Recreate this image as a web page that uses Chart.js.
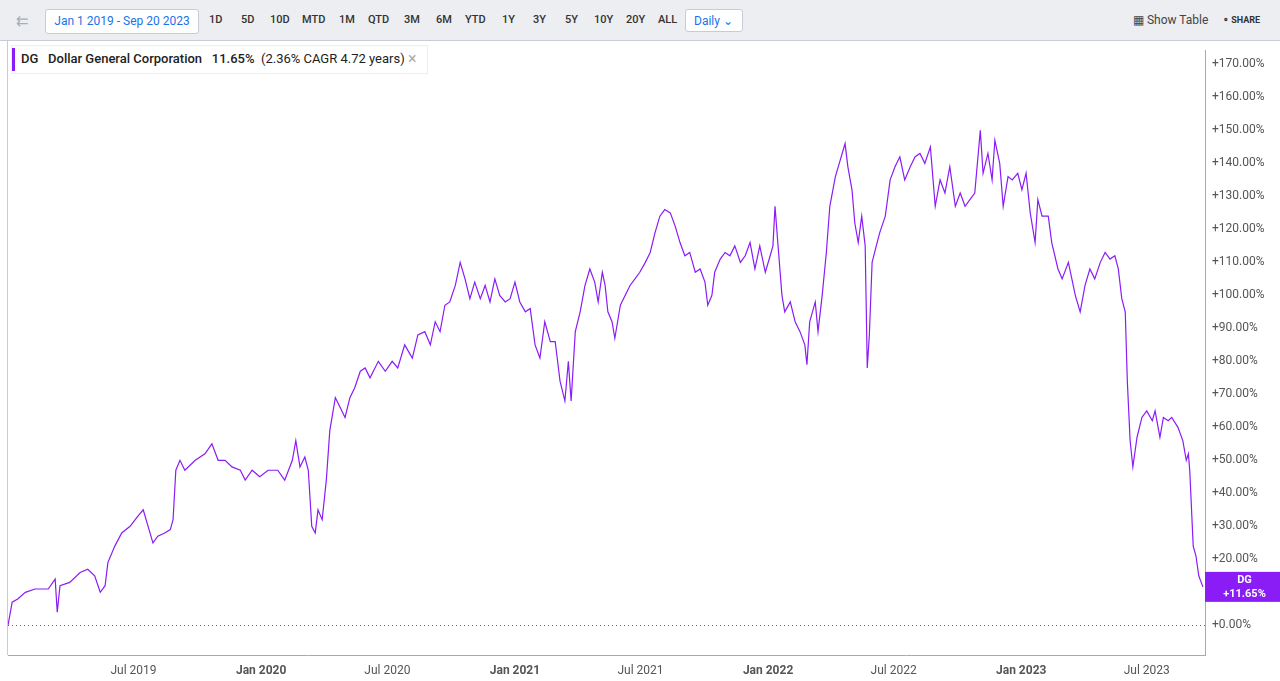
<!DOCTYPE html>
<html><head><meta charset="utf-8">
<script src="https://cdn.jsdelivr.net/npm/chart.js@4"></script>
<style>
body{margin:0;width:1280px;height:681px;overflow:hidden;background:#fff;font-family:Roboto,"Liberation Sans",sans-serif;position:relative}
#bar{position:absolute;left:0;top:0;width:1280px;height:40px;background:#eceef1;border-bottom:1px solid #c9ccd2}
.b{position:absolute;top:13px;font-size:11px;color:#333;font-weight:500}
#range{position:absolute;left:45px;top:9px;width:152px;height:23px;border:1px solid #c8ccd3;border-radius:3px;background:#fff;color:#1a73e8;font-size:12px;line-height:23px;text-align:center}
#daily{position:absolute;left:685px;top:9px;width:58px;height:23px;border:1px solid #c8ccd3;border-radius:3px;background:#fff;color:#1a73e8;font-size:12px;line-height:23px;padding-left:8px;box-sizing:border-box}
#leg{position:absolute;left:11px;top:45px;width:415px;height:27px;background:#fff;border:1px solid #eceef1;font-size:13px;color:#222;line-height:26px}
#leg .m{position:absolute;left:0;top:2px;width:3px;height:23px;background:#8a1cf5}
#wrap{position:absolute;left:0;top:40px;width:1280px;height:641px}
#lb{position:absolute;left:7px;top:40px;width:1px;height:615px;background:#c9ccd2}
</style></head><body>
<div id="bar">
<div style="position:absolute;left:16px;top:12px;color:#aab0b8;font-size:15px">&#8647;</div>
<div id="range">Jan 1 2019 - Sep 20 2023</div>
<div class="b" style="left:209px">1D</div><div class="b" style="left:241px">5D</div><div class="b" style="left:270px">10D</div><div class="b" style="left:302px">MTD</div><div class="b" style="left:339px">1M</div><div class="b" style="left:368px">QTD</div><div class="b" style="left:404px">3M</div><div class="b" style="left:436px">6M</div><div class="b" style="left:465px">YTD</div><div class="b" style="left:502px">1Y</div><div class="b" style="left:533px">3Y</div><div class="b" style="left:565px">5Y</div><div class="b" style="left:594px">10Y</div><div class="b" style="left:626px">20Y</div><div class="b" style="left:658px">ALL</div>
<div id="daily">Daily &#8964;</div>
<div style="position:absolute;left:1133px;top:13px;font-size:12px;color:#444">&#9638; Show Table</div>
<div style="position:absolute;left:1223px;top:15px;font-size:9px;color:#333;font-weight:700">&#8728; SHARE</div>
</div>
<div id="wrap"><canvas id="c"></canvas></div>
<div id="lb"></div>
<div id="leg"><div class="m"></div><span style="position:absolute;left:9px"><b style="font-weight:500">DG</b>&nbsp;&nbsp; <span style="font-weight:500">Dollar General Corporation</span>&nbsp;&nbsp; <span style="font-weight:500">11.65%</span>&nbsp; (2.36% CAGR 4.72 years)</span><span style="position:absolute;left:396px;color:#aaa;font-size:16px">&#215;</span></div>
<script>
const days=[0,6,14,25,39,58,68,71,75,89,104,115,125,133,140,144,154,164,176,187,195,202,209,216,226,234,238,242,248,255,270,284,294,303,313,323,335,342,352,363,375,389,399,410,415,421,428,433,438,443,447,453,459,464,472,479,486,493,500,508,515,522,534,544,554,562,572,583,591,601,609,616,623,630,637,645,652,659,666,673,681,688,695,702,709,717,724,731,738,746,753,760,767,774,782,789,796,803,808,812,818,825,832,839,846,851,857,861,865,871,875,883,890,897,904,911,919,926,933,940,947,955,962,969,976,983,991,998,1005,1009,1015,1019,1027,1034,1041,1048,1056,1063,1070,1077,1084,1092,1099,1103,1106,1110,1116,1120,1128,1135,1142,1149,1152,1156,1164,1168,1174,1180,1185,1193,1200,1207,1211,1217,1221,1226,1231,1236,1239,1242,1246,1252,1257,1265,1272,1279,1286,1293,1301,1308,1315,1322,1330,1337,1344,1351,1358,1366,1373,1380,1387,1394,1402,1406,1413,1419,1423,1430,1435,1442,1448,1456,1462,1468,1474,1481,1485,1491,1500,1505,1514,1520,1529,1539,1546,1553,1560,1567,1575,1582,1589,1596,1601,1606,1611,1614,1618,1622,1628,1635,1642,1650,1654,1661,1666,1673,1678,1687,1694,1699,1702,1704,1709,1713,1717,1723];
const dgReturn=[0,7,8,10,11,11,14,4,12,13,16,17,15,10,12,19,24,28,30,33,35,30,25,27,28,29,32,47,50,47,50,52,55,50,50,48,47,44,47,45,47,47,44,50,56,48,51,47,30,28,35,32,44,59,69,66,63,69,72,77,78,75,80,77,80,78,85,81,88,89,85,92,89,97,98,103,110,105,99,104,99,103,98,105,100,98,99,104,98,95,96,85,81,92,86,86,74,68,80,68,89,95,103,108,104,98,107,103,95,92,87,97,100,103,105,107,110,113,119,124,126,125,121,116,112,113,107,108,104,97,100,107,111,113,112,115,110,112,116,108,115,107,112,115,127,116,100,95,98,92,89,85,79,92,98,89,100,113,127,136,141,146,139,132,122,116,124,115,78,88,110,115,119,124,135,139,142,135,139,142,143,140,145,127,135,131,139,127,131,127,129,131,150,137,143,135,147,140,127,136,135,137,132,137,125,116,129,124,124,116,108,105,110,100,95,103,108,105,110,113,111,112,108,99,95,74,56,48,57,63,65,62,65,57,63,62,63,60,56,50,52,47,24,21,15,11.65];
const tickDays=[181,365,547,731,912,1096,1277,1461,1642];
const tickLabels=['Jul 2019','Jan 2020','Jul 2020','Jan 2021','Jul 2021','Jan 2022','Jul 2022','Jan 2023','Jul 2023'];
const yTicks=[0,10,20,30,40,50,60,70,80,90,100,110,120,130,140,150,160,170];
const lastLabel=['DG','+11.65%'];
const purple='#8a1cf5';
const extra={id:'extra',afterDatasetsDraw(ch){const c=ch.ctx,x=ch.scales.x,y=ch.scales.y;
 c.save();c.setLineDash([1,3]);c.strokeStyle='#666';c.lineWidth=1;c.beginPath();const y0=Math.round(y.getPixelForValue(0))+0.5;c.moveTo(x.left,y0);c.lineTo(x.right,y0);c.stroke();c.setLineDash([]);
 const yl=y.getPixelForValue(dgReturn[dgReturn.length-1]);c.fillStyle=purple;c.fillRect(x.right,yl-15,ch.width-x.right,30);
 c.fillStyle='#fff';c.font='bold 11px Roboto';c.textAlign='center';c.textBaseline='middle';const cx=(x.right+ch.width)/2+2;c.fillText(lastLabel[0],cx,yl-7);c.fillText(lastLabel[1],cx,yl+7);c.restore();}};
new Chart(document.getElementById('c'),{type:'line',
data:{datasets:[{data:days.map((d,i)=>({x:d,y:dgReturn[i]})),borderColor:purple,borderWidth:1.2,pointRadius:0,tension:0}]},
options:{responsive:true,maintainAspectRatio:false,animation:false,
 layout:{padding:{left:8,top:-6,right:0,bottom:0}},
 plugins:{legend:{display:false},tooltip:{enabled:false}},
 scales:{
  x:{type:'linear',min:0,max:1726,afterBuildTicks:s=>{s.ticks=tickDays.map(v=>({value:v}));},
   afterFit:s=>{s.height=26;},
   grid:{display:false,drawTicks:true,tickLength:4,tickColor:'#999'},border:{color:'#aaa'},
   ticks:{autoSkip:false,maxRotation:0,padding:5,color:'#555',callback:(v,i)=>tickLabels[i],
    font:ctx=>({family:'Roboto',size:12,weight:(tickLabels[ctx.index]||'').startsWith('Jan')?'bold':'normal'})}},
  y:{position:'right',min:-9.0,max:174.3,afterBuildTicks:s=>{s.ticks=yTicks.map(v=>({value:v}));},
   afterFit:s=>{s.width=75;},
   grid:{display:false,drawTicks:true,tickLength:4,tickColor:'#999'},border:{color:'#aaa'},
   ticks:{padding:3,color:'#555',font:{family:'Roboto',size:12},callback:v=>'+'+v.toFixed(2)+'%'}}
 }},plugins:[extra]});
</script></body></html>
